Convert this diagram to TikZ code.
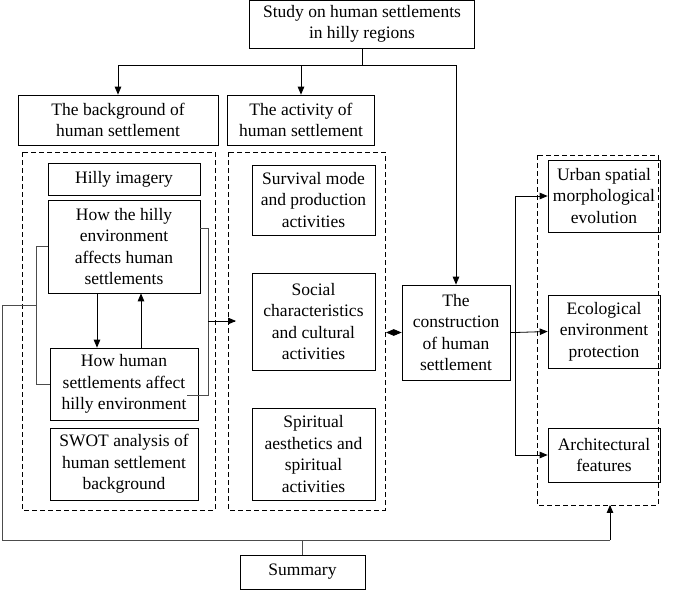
\documentclass[tikz,border=0pt]{standalone}
\usepackage{fontspec}
\setmainfont{Liberation Serif}
\usetikzlibrary{arrows, positioning}
\begin{document}
\begin{tikzpicture}[x=1pt,y=-1pt,font=\fontsize{17.5}{21.5}\selectfont]

\tikzstyle{box} = [rectangle, draw=black, thick, text centered, align=center, inner sep=1pt]
\tikzstyle{group} = [draw=black, thick, dash pattern=on 5pt off 3pt]
\tikzstyle{arrow} = [thick,->,>=triangle 45]
\tikzstyle{link} = [draw=black!70]

\useasboundingbox (0,0) rectangle (685,589);

\node (study) [box, minimum width=225, minimum height=48] at (362,24) {Study on human settlements\\in hilly regions};
\node (bg) [box, minimum width=200, minimum height=50] at (118,120) {The background of\\human settlement};
\node (act) [box, minimum width=147, minimum height=50] at (301,120) {The activity of\\human settlement};

\draw [group] (22,152) rectangle (215,510);
\draw [group] (228,152) rectangle (385,510);
\draw [group] (537,155) rectangle (658,505);

\node (img) [box, minimum width=152, minimum height=32] at (124,179) {Hilly imagery};
\node (env) [box, minimum width=152, minimum height=93] at (124,246.5) {How the hilly\\environment\\affects human\\settlements};
\node (hum) [box, minimum width=148, minimum height=72] at (124,384) {How human\\settlements affect\\hilly environment};
\node (swot) [box, minimum width=148, minimum height=72] at (124,464) {SWOT analysis of\\human settlement\\background};

\node (surv) [box, minimum width=123, minimum height=70] at (313.5,200) {Survival mode\\and production\\activities};
\node (soc) [box, minimum width=123, minimum height=97] at (313.5,321.5) {Social\\characteristics\\and cultural\\activities};
\node (spir) [box, minimum width=123, minimum height=92] at (313.5,454) {Spiritual\\aesthetics and\\spiritual\\activities};

\node (cons) [box, minimum width=108, minimum height=95] at (456,332.5) {The\\construction\\of human\\settlement};

\node (urb) [box, minimum width=112, minimum height=72] at (604,196) {Urban spatial\\morphological\\evolution};
\node (eco) [box, minimum width=112, minimum height=73] at (604,331.5) {Ecological\\environment\\protection};
\node (arch) [box, minimum width=112, minimum height=54] at (604,455) {Architectural\\features};

\node (sum) [box, minimum width=125, minimum height=34] at (302.5,572) {Summary};

\coordinate (bgtop) at (bg.north |- 0,65);
\coordinate (acttop) at (act.north |- 0,65);
\coordinate (constop) at (cons.north |- 0,65);
\coordinate (split) at (515,332.5);
\coordinate (lnode) at (37,305);
\coordinate (rnode) at (208,321);

% top branches
\draw [thick] (study.south) -- (study.south |- bgtop);
\draw [thick] (bgtop) -- (constop);
\draw [arrow] (bgtop) -- (bg.north);
\draw [arrow] (acttop) -- (act.north);
\draw [arrow] (constop) -- (cons.north);

% interaction of environment and settlements
\draw [arrow] ([xshift=-27]env.south) -- ([xshift=-27]hum.north -| env.south);
\draw [arrow] ([xshift=17]hum.north) -- ([xshift=17]env.south);
\draw [link] (env.west) -- ++(-11,0) |- (hum.west);
\draw [link] ([yshift=18]env.east) -- ++(8,0) |- ([xshift=-11,yshift=-11]hum.east);
\draw [arrow] (rnode) -- (236,321);

% to construction and outcomes
\draw [thick,<->,>=triangle 45] (386,332.5) -- (cons.west);
\draw [thick] (cons.east) -- (split);
\draw [thick] (urb.west -| split) -- (arch.west -| split);
\draw [arrow] (urb.west -| split) -- (urb.west);
\draw [arrow] (split) -- (eco.west);
\draw [arrow] (arch.west -| split) -- (arch.west);

% summary loop
\draw [link] (lnode) -- (2,305) |- (610,540);
\draw [arrow] (610,540) -- (610,505);
\draw [link] (sum.north) -- (sum.north |- 0,540);

\end{tikzpicture}
\end{document}
